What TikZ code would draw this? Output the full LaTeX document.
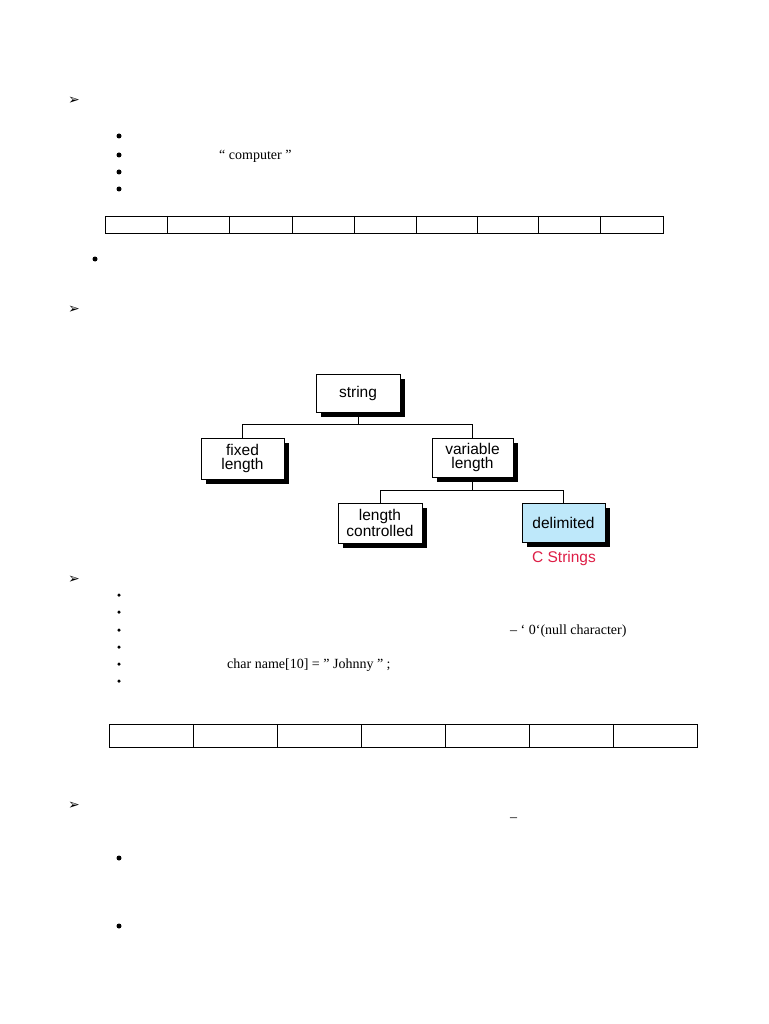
\documentclass[tikz,border=0pt]{standalone}
\usepackage{fontspec}
\setmainfont{Liberation Serif}
\newfontfamily\dejavu{DejaVu Sans}
\newfontfamily\arial{Liberation Sans}
\definecolor{cblue}{RGB}{190,232,250}
\definecolor{cred}{RGB}{222,30,70}
\tikzset{
 tb/.style={draw,black,line width=0.7pt,font=\arial\fontsize{15.5}{14}\selectfont,align=center,inner sep=0pt},
 ln/.style={line width=0.8pt},
 arr/.style={font=\dejavu\fontsize{14}{14}\selectfont},
 bul/.style={circle,fill=black,inner sep=0pt,minimum size=5pt},
 sbul/.style={circle,fill=black,inner sep=0pt,minimum size=3.5pt},
 txt/.style={font=\fontsize{14}{14}\selectfont,anchor=west,inner sep=0pt},
 cell/.style={line width=0.6pt}
}
\begin{document}
\begin{tikzpicture}[x=1pt,y=-1pt]
\useasboundingbox (0,0) rectangle (768,1024);
\fill[white] (0,0) rectangle (768,1024);
% arrows
\foreach \y/\n in {101/a1,310/a2,580/a3,806/a4} \node[arr] (\n) at (74,\y) {➢};
% first bullets
\foreach \y/\n in {136/b1,155/b2,172/b3,189/b4} \node[bul] (\n) at (119,\y) {};
\node[txt] (comp) at (219,156) {“ computer ”};
% table 1
\draw[cell] (105,216) rectangle (663,233);
\foreach \x in {167,229,292,354,416,477,538,600} \draw[cell] (\x,216) -- (\x,233);
\node[bul] (b5) at (95,259) {};
% diagram
\foreach \n/\a/\b/\c/\d/\t/\f in {s/316/374/400/412/string/white, f/201/438/284/479/{fixed\\length}/white, v/432/438/513/477/{variable\\length}/white, l/338/503/422/543/{length\\controlled}/white, d/522/503/605/542/delimited/cblue}{
 \fill (\a+5,\b+5) rectangle (\c+5,\d+5);
 \node[tb,fill=\f,minimum width=\c-\a,minimum height=\d-\b] (\n) at ({(\a+\c)/2},{(\b+\d)/2}) {\t};
}
\draw[ln] (s.south) -- ++(0,12) -| (f.north);
\draw[ln] (s.south) ++(0,12) -| (v.north);
\draw[ln] (v.south) -- ++(0,13) -| (l.north);
\draw[ln] (v.south) ++(0,13) -| (d.north);
\node[font=\arial\fontsize{15.5}{15}\selectfont,text=cred] (cs) at (564,558) {C Strings};
% second bullets
\foreach \y/\n in {595/c1,612/c2,630/c3,647/c4,664/c5,681/c6} \node[sbul] (\n) at (119,\y) {};
\node[txt] (nul) at (510,631) {– ‘ 0‘(null character)};
\node[txt] (chr) at (227,665) {char name[10] = ” Johnny ” ;};
% table 2
\draw[cell] (109,724) rectangle (697,747);
\foreach \x in {193,277,361,445,529,613} \draw[cell] (\x,724) -- (\x,747);
\node[txt] (dash) at (510,820) {–};
\node[bul] (d1) at (119,858) {};
\node[bul] (d2) at (119,926) {};
\end{tikzpicture}
\end{document}
